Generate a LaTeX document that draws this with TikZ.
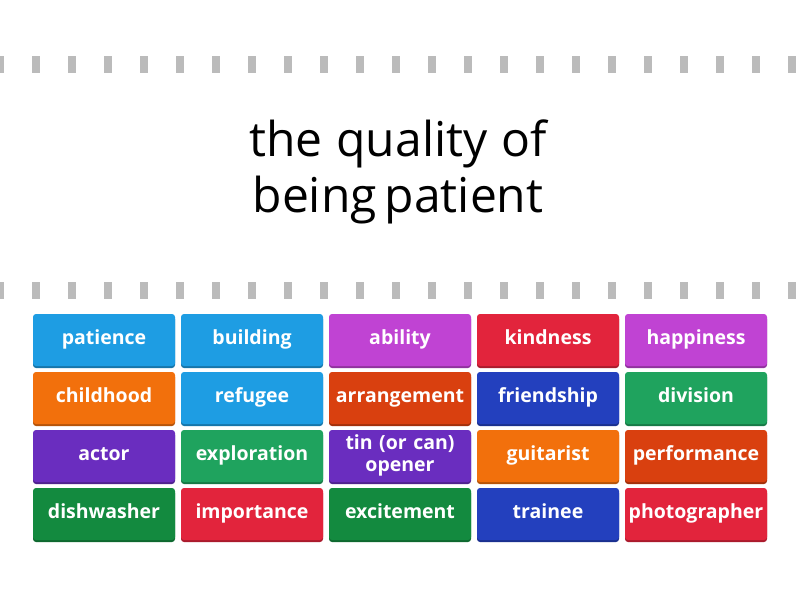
\documentclass[tikz,border=0pt]{standalone}
\usepackage{fontspec}
\setmainfont{Open Sans}
\definecolor{cblue}{HTML}{1E9DE3}
\definecolor{cmag}{HTML}{C043D3}
\definecolor{cred}{HTML}{E2243C}
\definecolor{corange}{HTML}{F2700C}
\definecolor{cored}{HTML}{D9400F}
\definecolor{cdblue}{HTML}{2340BE}
\definecolor{cgreen}{HTML}{1FA35E}
\definecolor{cpurple}{HTML}{6A2DBF}
\definecolor{cdgreen}{HTML}{138A3F}
\definecolor{sqgray}{HTML}{BBBBBB}
\tikzset{
 btn/.style={draw=none, fill=#1, rounded corners=3pt, minimum width=142pt, minimum height=52pt,
   text=white, font=\fontsize{19.5}{22}\bfseries\selectfont, align=center, inner sep=0pt,
   text width=142pt},
}
\begin{document}
\begin{tikzpicture}[x=1pt,y=-1pt]
\useasboundingbox (0,0) rectangle (800,600);
\foreach \x in {0,36,...,800}{
  \fill[sqgray] (\x-4,56) rectangle (\x+4,73);
  \fill[sqgray] (\x-4,282) rectangle (\x+4,299);
}
\node[font=\fontsize{48}{56}\selectfont, align=center] (title) at (398,172) {the\hspace{14pt}quality\hspace{14pt}of\\being\hspace{8pt}patient};
\foreach \c/\r/\col/\t/\n in {
0/0/cblue/patience/a1, 1/0/cblue/building/a2, 2/0/cmag/ability/a3, 3/0/cred/kindness/a4, 4/0/cmag/happiness/a5,
0/1/corange/childhood/b1, 1/1/cblue/refugee/b2, 2/1/cored/arrangement/b3, 3/1/cdblue/friendship/b4, 4/1/cgreen/division/b5,
0/2/cpurple/actor/c1, 1/2/cgreen/exploration/c2, 2/2/cpurple/{\strut tin (or can)\\opener\strut}/c3, 3/2/corange/guitarist/c4, 4/2/cored/performance/c5,
0/3/cdgreen/dishwasher/d1, 1/3/cred/importance/d2, 2/3/cdgreen/excitement/d3, 3/3/cdblue/trainee/d4, 4/3/cred/photographer/d5}{
  \fill[\col!75!black, rounded corners=3pt] (33+148*\c,316+58*\r) rectangle (175+148*\c,368+58*\r);
  \node[btn=\col] (\n) at (104+148*\c,340+58*\r) {\strut\t};
}
\end{tikzpicture}
\end{document}
